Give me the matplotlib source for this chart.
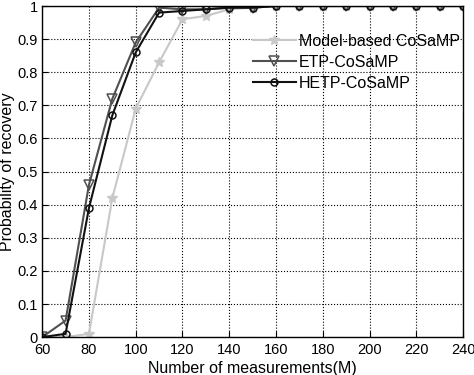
import matplotlib
matplotlib.use('Agg')
import matplotlib.pyplot as plt

plt.rcParams['font.family'] = ['Liberation Sans', 'DejaVu Sans']

# number of measurements
m = [60, 70, 80, 90, 100, 110, 120, 130, 140, 150, 160, 170, 180, 190, 200, 210, 220, 230, 240]

model_based = [0.0, 0.0, 0.01, 0.42, 0.69, 0.83, 0.96, 0.97, 0.99, 0.995, 1, 1, 1, 1, 1, 1, 1, 1, 1]
etp = [0.0, 0.05, 0.46, 0.72, 0.89, 0.995, 0.99, 0.99, 0.995, 0.995, 1, 1, 1, 1, 1, 1, 1, 1, 1]
hetp = [0.0, 0.01, 0.39, 0.67, 0.86, 0.98, 0.985, 0.99, 0.995, 0.995, 1, 1, 1, 1, 1, 1, 1, 1, 1]

xticks = list(range(60, 241, 20))
yticks = [0, 0.1, 0.2, 0.3, 0.4, 0.5, 0.6, 0.7, 0.8, 0.9, 1]
yticklabels = ['0', '0.1', '0.2', '0.3', '0.4', '0.5', '0.6', '0.7', '0.8', '0.9', '1']

fig = plt.figure(figsize=(4.74, 3.75), dpi=100)
ax = fig.add_axes([0.089, 0.101, 0.888, 0.883])

ax.plot(m, model_based, color='#c8c8c8', marker='*', markersize=7, lw=1.5,
        label='Model-based CoSaMP')
ax.plot(m, etp, color='#505050', marker='v', markersize=7, mfc='none', mew=1.1, lw=1.5,
        label='ETP-CoSaMP')
ax.plot(m, hetp, color='#111111', marker='o', markersize=5, mfc='none', mew=1.1, lw=1.5,
        label='HETP-CoSaMP')

ax.set_xlim(60, 240)
ax.set_ylim(0, 1)
ax.set_xticks(xticks)
ax.set_yticks(yticks)
ax.set_yticklabels(yticklabels)
ax.tick_params(direction='in', labelsize=10.5, length=4)
ax.tick_params(axis='x', pad=4)
ax.tick_params(axis='y', pad=3)
ax.grid(True, linestyle=':', color='black', linewidth=0.8)
for s in ax.spines.values():
    s.set_linewidth(1.0)

ax.set_xlabel('Number of measurements(M)', fontsize=11.5, labelpad=3)
ax.set_ylabel('Probability of recovery', fontsize=11.5, labelpad=2)

ax.legend(loc='upper right', bbox_to_anchor=(1.012, 0.94), frameon=False, fontsize=11.5,
          handlelength=2.7, handletextpad=0.2, labelspacing=0.38, borderaxespad=0.1)

fig.savefig('out.png', dpi=100)
